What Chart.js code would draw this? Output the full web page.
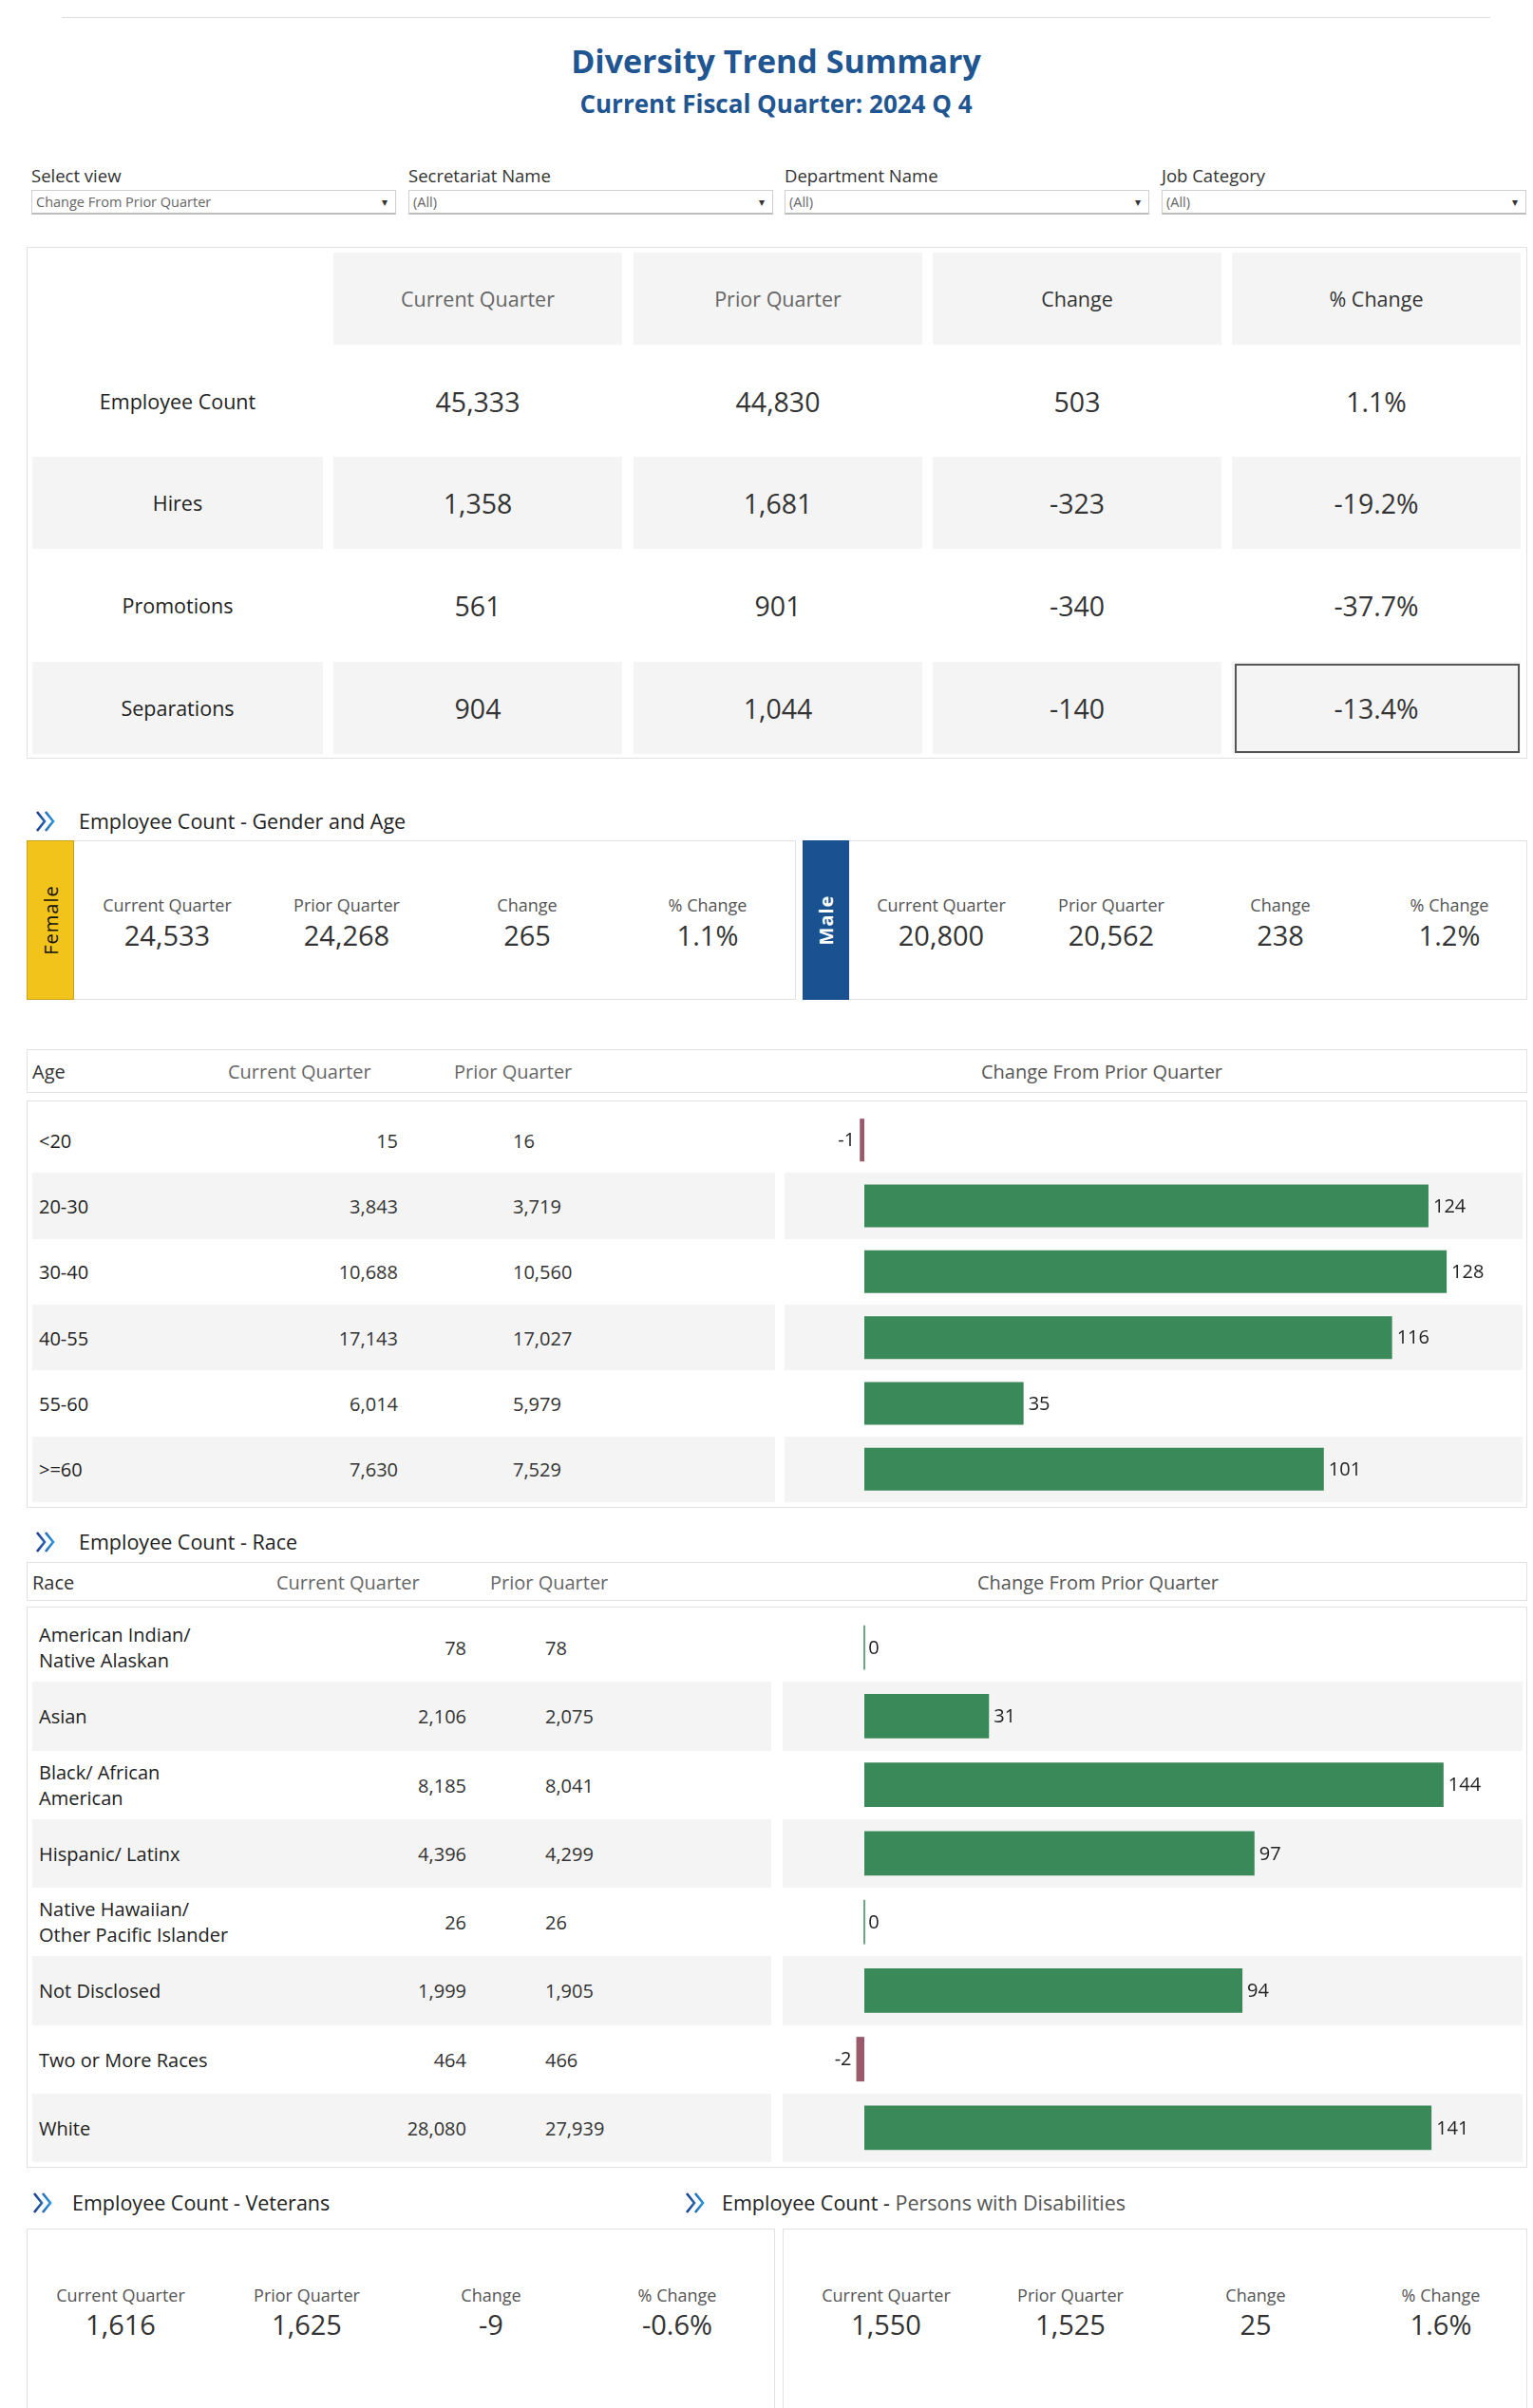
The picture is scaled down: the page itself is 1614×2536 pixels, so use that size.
<!DOCTYPE html>
<html>
<head>
<meta charset="utf-8">
<script src="https://cdn.jsdelivr.net/npm/chart.js@4"></script>
<style>
  html, body { margin: 0; padding: 0; background: #fff; }
  #page { position: relative; width: 1614px; height: 2536px; overflow: hidden; font-family: "Open Sans", "Noto Sans", sans-serif; color: #333; }
  canvas { position: absolute; }
</style>
</head>
<body>
<div id="page"></div>
<script>
const fiscalQuarter = '2024 Q 4';
const filterLabels = ['Select view', 'Secretariat Name', 'Department Name', 'Job Category'];
const filterValues = ['Change From Prior Quarter', '(All)', '(All)', '(All)'];

const colHeaders = ['Current Quarter', 'Prior Quarter', 'Change', '% Change'];
const metricNames = ['Employee Count', 'Hires', 'Promotions', 'Separations'];
const metricCurrent = [45333, 1358, 561, 904];
const metricPrior = [44830, 1681, 901, 1044];
const metricChange = [503, -323, -340, -140];
const metricPct = [1.1, -19.2, -37.7, -13.4];

const femaleStats = [24533, 24268, 265, 1.1];
const maleStats = [20800, 20562, 238, 1.2];

const ageGroups = ['<20', '20-30', '30-40', '40-55', '55-60', '>=60'];
const ageCurrent = [15, 3843, 10688, 17143, 6014, 7630];
const agePrior = [16, 3719, 10560, 17027, 5979, 7529];
const ageChange = [-1, 124, 128, 116, 35, 101];

const raceGroups = ['American Indian/\nNative Alaskan', 'Asian', 'Black/ African\nAmerican', 'Hispanic/ Latinx',
  'Native Hawaiian/\nOther Pacific Islander', 'Not Disclosed', 'Two or More Races', 'White'];
const raceCurrent = [78, 2106, 8185, 4396, 26, 1999, 464, 28080];
const racePrior = [78, 2075, 8041, 4299, 26, 1905, 466, 27939];
const raceChange = [0, 31, 144, 97, 0, 94, -2, 141];

const veteranStats = [1616, 1625, -9, -0.6];
const disabilityStats = [1550, 1525, 25, 1.6];

const GREEN = '#3a8958';
const MAROON = '#9b5a6b';
const BAND = '#f4f4f4';
const BORDER = '#e1e1e1';
const BLUE = '#1f5591';

const page = document.getElementById('page');
const fmt = (v) => v.toLocaleString('en-US');
const pct = (v) => v.toFixed(1) + '%';

function put(html, css) {
    const d = document.createElement('div');
    d.innerHTML = html;
    Object.assign(d.style, { position: 'absolute' }, css);
    page.appendChild(d);
    return d;
}

function rect(x, y, w, h, css) {
    return put('', Object.assign({ left: x + 'px', top: y + 'px', width: w + 'px', height: h + 'px', boxSizing: 'border-box' }, css));
}

function label(str, x, y, size, color, align, weight) {
    const tx = align === 'center' ? '-50%' : align === 'right' ? '-100%' : '0';
    return put(str, {
        left: x + 'px', top: y + 'px', transform: `translate(${tx},-50%)`,
        fontSize: size + 'px', color: color, fontWeight: weight || 'normal',
        whiteSpace: 'nowrap', lineHeight: '1.35', textAlign: align || 'left'
    });
}

function chevrons(x, y) {
    put(`<svg width="26" height="24" viewBox="0 0 26 24">
      <defs><linearGradient id="g${x}${y}" x1="0" y1="0" x2="1" y2="0">
        <stop offset="0" stop-color="#1c3d8c"/><stop offset="1" stop-color="#2b93dc"/></linearGradient></defs>
      <path d="M3 2 L11 12 L3 22 M12 2 L20 12 L12 22" fill="none" stroke="url(#g${x}${y})" stroke-width="2.6"/>
    </svg>`, { left: x + 'px', top: (y - 12) + 'px', lineHeight: '0' });
}

function sectionTitle(x, y, textX, main, extra) {
    chevrons(x, y);
    let html = main;
    if (extra) html += `<span style="color:#555">${extra}</span>`;
    label(html, textX, y, 21.5, '#222');
}

// ---- header ----
rect(65, 18, 1504, 1, { background: '#dcdcdc' });
label('Diversity Trend Summary', 817, 65, 34, BLUE, 'center', 'bold');
label('Current Fiscal Quarter: ' + fiscalQuarter, 817, 110, 26, BLUE, 'center', 'bold');

const filterX = [33, 430, 826, 1223];
filterLabels.forEach((name, i) => {
    label(name, filterX[i], 185, 18.5, '#333');
    const w = 384;
    rect(filterX[i], 200, w, 26, { border: '1px solid #cfcfcf', borderBottom: '2px solid #bdbdbd', background: '#fff' });
    label(filterValues[i], filterX[i] + 5, 213, 14.5, '#666');
    label('\u25BE', filterX[i] + w - 12, 213, 12, '#333', 'center');
});

// ---- summary table ----
rect(28, 260, 1580, 539, { border: '1px solid ' + BORDER });
const colX = [34, 351, 667, 982, 1297];
const colW = [306, 304, 304, 304, 304];
const rowY = [266, 374, 481, 589, 697];
const rowH = 97;
colHeaders.forEach((h, i) => {
    rect(colX[i + 1], rowY[0], colW[i + 1], rowH, { background: BAND });
    label(h, colX[i + 1] + colW[i + 1] / 2, rowY[0] + rowH / 2, 21.5, i < 2 ? '#666' : '#333', 'center');
});
metricNames.forEach((name, r) => {
    const y = rowY[r + 1];
    const cells = [fmt(metricCurrent[r]), fmt(metricPrior[r]), fmt(metricChange[r]), pct(metricPct[r])];
    if (r % 2 === 1) {
        colX.forEach((x, c) => rect(x, y, colW[c], rowH, { background: BAND }));
    }
    label(name, colX[0] + colW[0] / 2, y + rowH / 2, 21.5, '#222', 'center');
    cells.forEach((v, c) => label(v, colX[c + 1] + colW[c + 1] / 2, y + rowH / 2, 28.5, '#333', 'center'));
});
rect(1300, 699, 300, 94, { border: '2px solid #555' });

// ---- gender cards ----
sectionTitle(36, 865, 83, 'Employee Count - Gender and Age');
function statRow(stats, centers, labelY, valueY) {
    colHeaders.forEach((h, i) => {
        label(h, centers[i], labelY, 18, '#555', 'center');
        const v = i === 3 ? pct(stats[i]) : fmt(stats[i]);
        label(v, centers[i], valueY, 29, '#333', 'center');
    });
}
rect(28, 885, 810, 168, { border: '1px solid ' + BORDER });
rect(28, 885, 50, 168, { background: '#f2c31b', border: '1px solid #c9a21a' });
put('Female', { left: '53px', top: '969px', transform: 'translate(-50%,-50%) rotate(-90deg)', fontSize: '20px', letterSpacing: '1px', color: '#111' });
statRow(femaleStats, [176, 365, 555, 745], 953, 985);

rect(845, 885, 763, 168, { border: '1px solid ' + BORDER });
rect(845, 885, 49, 168, { background: '#1a5291' });
put('Male', { left: '869px', top: '969px', transform: 'translate(-50%,-50%) rotate(-90deg)', fontSize: '20px', letterSpacing: '1px', color: '#fff', fontWeight: 'bold' });
statRow(maleStats, [991, 1170, 1348, 1526], 953, 985);

// ---- breakdown tables with bar charts ----
function breakdown(cfg) {
    const { groups, current, prior, change, headY, headH, bodyY, bodyH, rowTop, pitch, leftEnd, rightStart,
        curRight, priorLeft, headCols, zeroX, pxPerUnit, title } = cfg;
    rect(28, headY, 1580, headH, { border: '1px solid ' + BORDER });
    const hc = headY + headH / 2;
    label(title, 34, hc, 20, '#333');
    label('Current Quarter', headCols[0], hc, 20, '#666');
    label('Prior Quarter', headCols[1], hc, 20, '#666');
    label('Change From Prior Quarter', headCols[2], hc, 20, '#555', 'center');
    rect(28, bodyY, 1580, bodyH, { border: '1px solid ' + BORDER });

    groups.forEach((g, i) => {
        const y = rowTop + i * pitch;
        if (i % 2 === 1) {
            rect(34, y, leftEnd - 34, pitch, { background: BAND });
            rect(rightStart, y, 1603 - rightStart, pitch, { background: BAND });
        }
        const cy = y + pitch / 2;
        label(g.replace('\n', '<br>'), 41, cy, 20, '#222');
        label(fmt(current[i]), curRight, cy, 20, '#333', 'right');
        label(fmt(prior[i]), priorLeft, cy, 20, '#333');
    });

    const w = 1603 - rightStart;
    const h = Math.round(pitch * groups.length);
    const canvas = document.createElement('canvas');
    canvas.width = w;
    canvas.height = h;
    canvas.style.left = rightStart + 'px';
    canvas.style.top = rowTop + 'px';
    page.appendChild(canvas);

    const xMin = -(zeroX - rightStart) / pxPerUnit;
    const xMax = (1603 - zeroX) / pxPerUnit;

    new Chart(canvas, {
        type: 'bar',
        data: {
            labels: groups,
            datasets: [{
                data: change,
                backgroundColor: change.map((v) => v < 0 ? MAROON : GREEN),
                categoryPercentage: 1,
                barPercentage: 0.65,
                minBarLength: 1.5
            }]
        },
        options: {
            indexAxis: 'y',
            responsive: false,
            animation: false,
            devicePixelRatio: 1,
            layout: { padding: 0 },
            plugins: { legend: { display: false }, tooltip: { enabled: false } },
            scales: {
                x: { display: false, min: xMin, max: xMax },
                y: { display: false }
            }
        },
        plugins: [{
            id: 'valueLabels',
            afterDatasetsDraw(chart) {
                const ctx = chart.ctx;
                ctx.save();
                ctx.font = '20px "Open Sans", sans-serif';
                ctx.fillStyle = '#222';
                ctx.textBaseline = 'middle';
                chart.getDatasetMeta(0).data.forEach((bar, i) => {
                    const v = change[i];
                    if (v < 0) {
                        ctx.textAlign = 'right';
                        ctx.fillText(String(v), bar.x - 5, bar.y + 1);
                    } else {
                        ctx.textAlign = 'left';
                        ctx.fillText(String(v), bar.x + 5, bar.y + 1);
                    }
                });
                ctx.restore();
            }
        }]
    });
}

breakdown({
    title: 'Age', groups: ageGroups, current: ageCurrent, prior: agePrior, change: ageChange,
    headY: 1105, headH: 46, bodyY: 1159, bodyH: 429, rowTop: 1166, pitch: 69.33,
    leftEnd: 816, rightStart: 826, curRight: 419, priorLeft: 540, headCols: [240, 478, 1160],
    zeroX: 910, pxPerUnit: 4.79
});

sectionTitle(36, 1624, 83, 'Employee Count - Race');
breakdown({
    title: 'Race', groups: raceGroups, current: raceCurrent, prior: racePrior, change: raceChange,
    headY: 1645, headH: 41, bodyY: 1692, bodyH: 591, rowTop: 1699, pitch: 72.25,
    leftEnd: 812, rightStart: 824, curRight: 491, priorLeft: 574, headCols: [291, 516, 1156],
    zeroX: 910, pxPerUnit: 4.235
});

// ---- veterans / disabilities ----
sectionTitle(33, 2320, 76, 'Employee Count - Veterans');
sectionTitle(720, 2320, 760, 'Employee Count - ', 'Persons with Disabilities');
rect(28, 2347, 788, 220, { border: '1px solid ' + BORDER });
rect(824, 2347, 784, 220, { border: '1px solid ' + BORDER });
statRow(veteranStats, [127, 323, 517, 713], 2417, 2448);
statRow(disabilityStats, [933, 1127, 1322, 1517], 2417, 2448);
</script>
</body>
</html>
